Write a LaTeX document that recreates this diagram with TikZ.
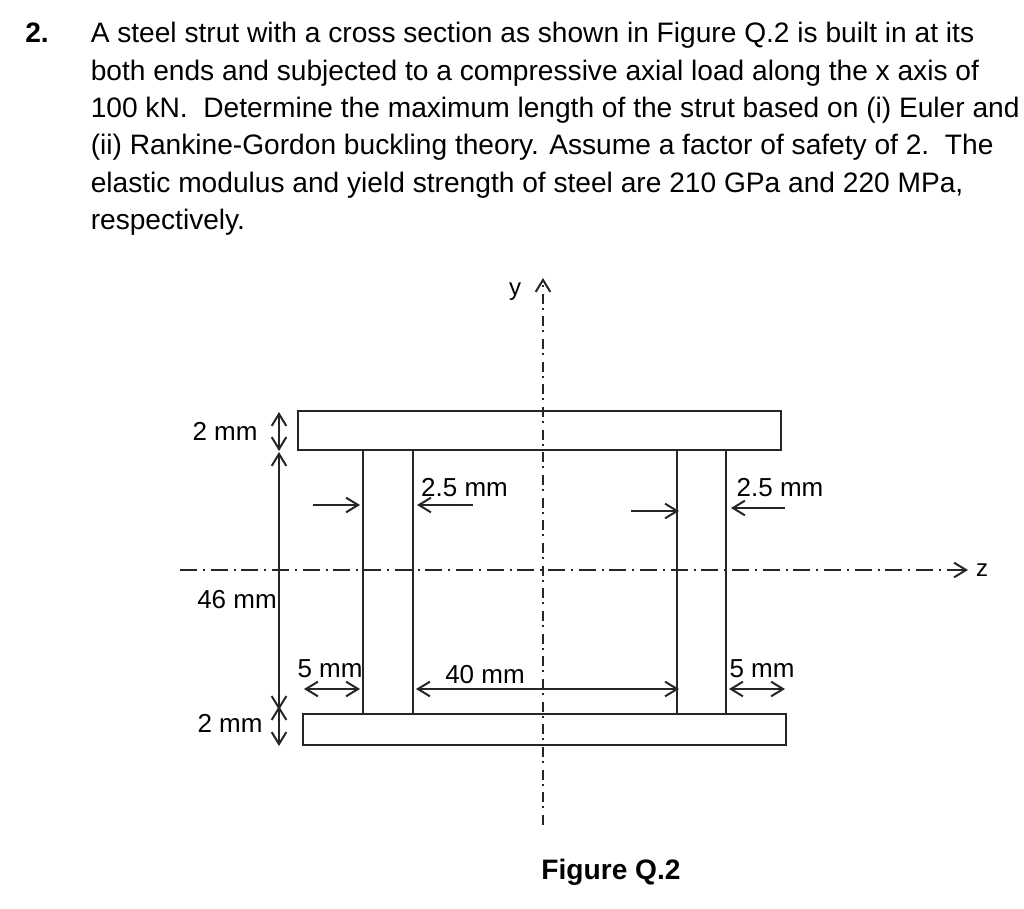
\documentclass[tikz,border=0pt]{standalone}
\usepackage{fontspec}
\setmainfont{Liberation Sans}
\usetikzlibrary{arrows.meta}
\tikzset{
  x=0.75pt,y=-0.75pt,
  body/.style={anchor=base west,inner sep=0pt,font=\fontsize{21.1}{24}\selectfont},
  dimlabel/.style={anchor=base,inner sep=0pt,font=\fontsize{19.5}{24}\selectfont},
  axislabel/.style={anchor=base,inner sep=0pt,font=\fontsize{18}{22}\selectfont},
  part/.style={draw=black!85,line width=1.8pt,fill=none,inner sep=0pt,outer sep=0pt},
  barb/.tip={Straight Barb[length=9pt,width=11pt,line width=1.5pt]},
  dim/.style={draw=black!85,line width=1.6pt},
  oneway/.style={dim,-{barb}},
  twoway/.style={dim,{barb}-{barb}},
  axisline/.style={draw=black!85,line width=1.6pt},
  zaxis/.style={axisline,dash pattern=on 12.75pt off 4.5pt on 1.5pt off 4.25pt,-{barb[sep=0pt]}},
  yaxis/.style={axisline,dash pattern=on 7.5pt off 5pt on 1.5pt off 3pt,-{barb[sep=0pt]}},
}
\begin{document}
\begin{tikzpicture}
\useasboundingbox (0,0) rectangle (1024,909);
% question text
\node[body,font=\fontsize{21.1}{24}\selectfont\bfseries] (num) at (25,43) {2.};
\node[body] (l1) at (90.5,43) {A steel strut with a cross section as shown in Figure Q.2 is built in at its};
\node[body] (l2) at (90.5,80.5) {both ends and subjected to a compressive axial load along the x axis of};
\node[body] (l3) at (90.5,117.5) {100 kN.\ \ Determine the maximum length of the strut based on (i) Euler and};
\node[body] (l4) at (90.5,155) {(ii) Rankine-Gordon buckling theory. Assume a factor of safety of 2.\ \ The};
\node[body] (l5) at (90.5,192.5) {elastic modulus and yield strength of steel are 210 GPa and 220 MPa,};
\node[body] (l6) at (90.5,230) {respectively.};
% cross section
\node[part,minimum width=483*0.75pt,minimum height=39*0.75pt] (top) at (539.5,430.5) {};
\node[part,minimum width=483*0.75pt,minimum height=31*0.75pt] (bot) at (544.5,729.5) {};
\node[part,minimum width=50*0.75pt,minimum height=264*0.75pt] (webL) at (388,582) {};
\node[part,minimum width=49*0.75pt,minimum height=264*0.75pt] (webR) at (701.5,582) {};
% axes
\coordinate (zs) at (180,570); \coordinate (ze) at (968,570);
\coordinate (ys) at (543,825); \coordinate (ye) at (543,278);
\draw[zaxis] (zs) -- (ze);
\draw[yaxis] (ys) -- (ye);
\node[axislabel] (ylab) at (515,296) {y};
\node[axislabel] (zlab) at (982,576) {z};
% vertical dimensions
\coordinate (d1a) at (279,412); \coordinate (d1b) at (279,451);
\coordinate (d2a) at (279,452); \coordinate (d2b) at (279,710);
\coordinate (d3a) at (279,706); \coordinate (d3b) at (279,746);
\draw[twoway] (d1a) -- (d1b);
\draw[twoway] (d2a) -- (d2b);
\draw[twoway] (d3a) -- (d3b);
% thickness arrows
\coordinate (a1) at (313,505); \coordinate (a2) at (360,505);
\coordinate (a3) at (473,505); \coordinate (a4) at (417,505);
\coordinate (a5) at (631,511); \coordinate (a6) at (679,511);
\coordinate (a7) at (785,508); \coordinate (a8) at (731,508);
\draw[oneway] (a1) -- (a2);
\draw[oneway] (a3) -- (a4);
\draw[oneway] (a5) -- (a6);
\draw[oneway] (a7) -- (a8);
% horizontal dimensions
\coordinate (b1) at (304,689); \coordinate (b2) at (360,689);
\coordinate (b3) at (416,689); \coordinate (b4) at (679,689);
\coordinate (b5) at (729,689); \coordinate (b6) at (785,689);
\draw[twoway] (b1) -- (b2);
\draw[twoway] (b3) -- (b4);
\draw[twoway] (b5) -- (b6);
% labels
\node[dimlabel] (t1) at (225,440) {2 mm};
\node[dimlabel] (t2) at (237,608) {46 mm};
\node[dimlabel] (t3) at (230,732) {2 mm};
\node[dimlabel] (t4) at (330,677) {5 mm};
\node[dimlabel] (t5) at (762,677) {5 mm};
\node[dimlabel] (t6) at (485,683) {40 mm};
\node[dimlabel] (t7) at (464.5,496) {2.5 mm};
\node[dimlabel] (t8) at (780,496) {2.5 mm};
\node[anchor=base,inner sep=0pt,font=\fontsize{21.1}{24}\selectfont\bfseries] (fig) at (611,879) {Figure Q.2};
\end{tikzpicture}
\end{document}
